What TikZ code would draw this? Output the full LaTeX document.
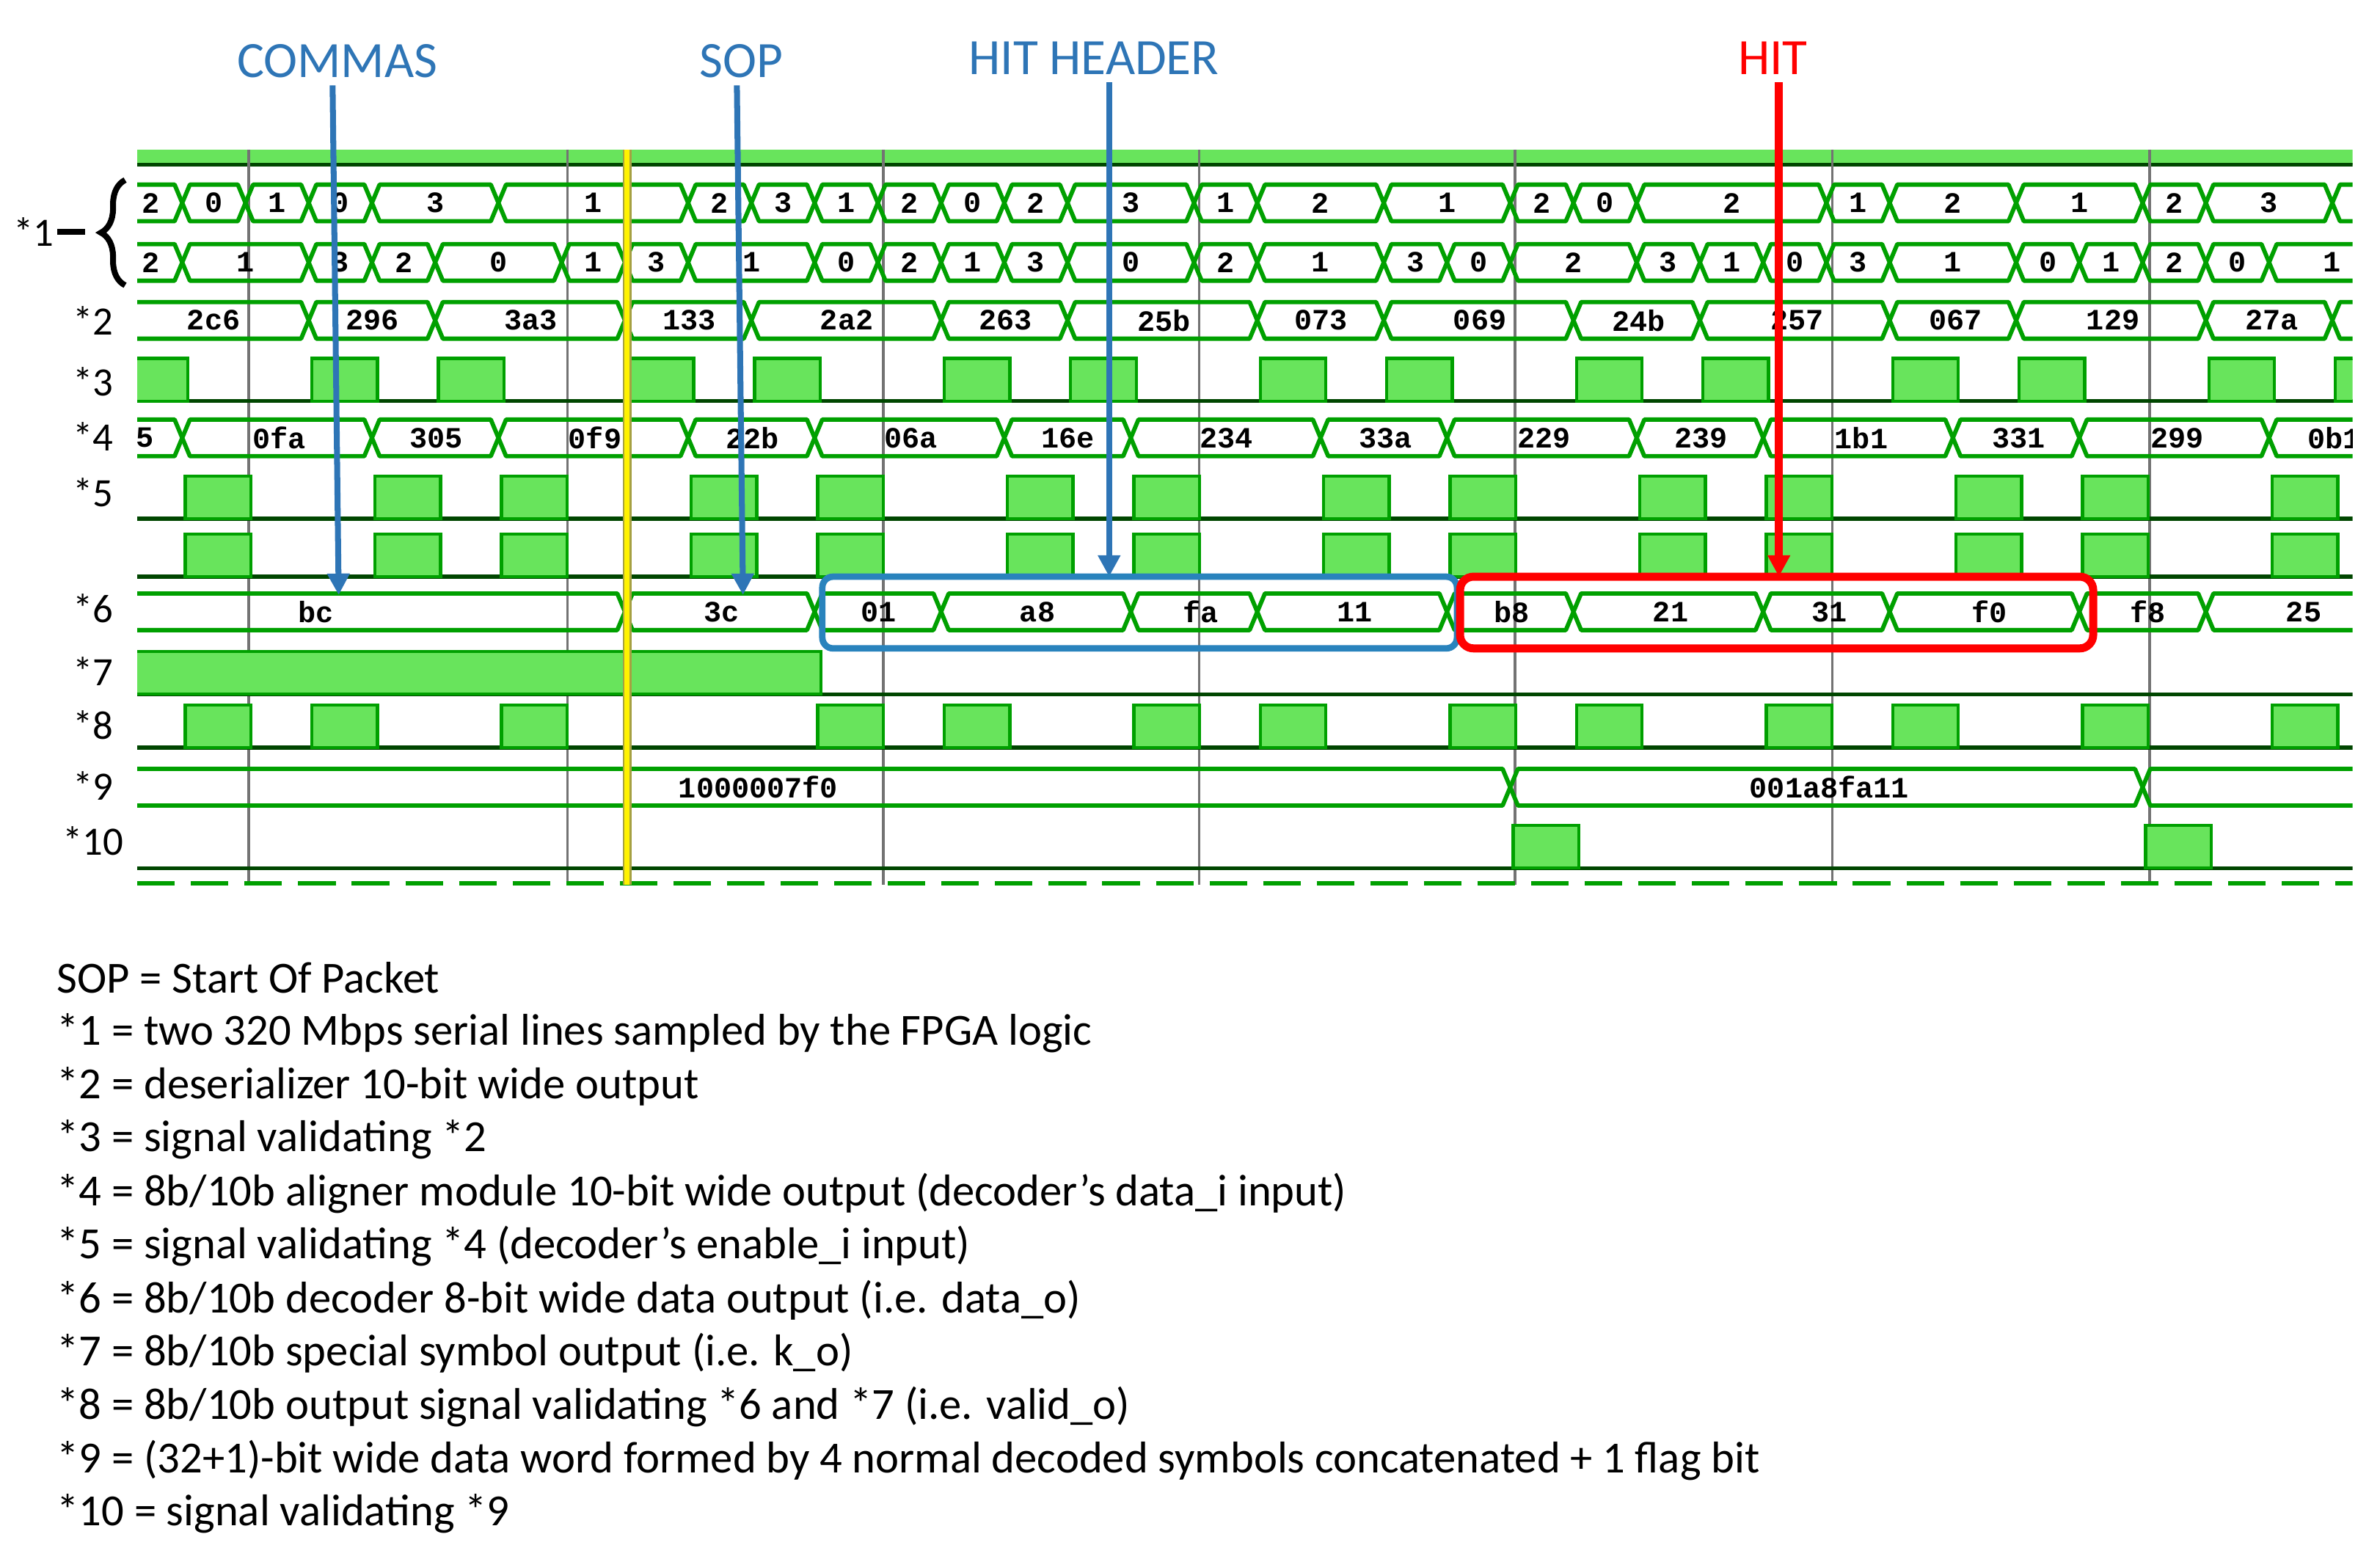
\documentclass[tikz,border=0pt]{standalone}
\usepackage{fontspec}
\setmainfont{Carlito}
\newfontfamily\monof{Liberation Mono}
\usetikzlibrary{decorations.pathreplacing,arrows.meta}
\definecolor{gfill}{RGB}{104,228,92}
\definecolor{gline}{RGB}{0,160,0}
\definecolor{gdark}{RGB}{0,70,0}
\definecolor{annblue}{RGB}{46,117,182}
\tikzset{
  bus/.style={draw=gline,line width=1.6pt,line join=round},
  val/.style={font=\monof\bfseries\fontsize{11}{11}\selectfont,inner sep=0pt},
  pul/.style={fill=gfill,draw=gline,line width=1.2pt},
  base/.style={draw=gdark,line width=1.4pt},
  grid/.style={draw=black!55,line width=0.9pt},
  ann/.style={font=\fontsize{19}{19}\selectfont,inner sep=0pt},
  annarrow/.style={line width=2.2pt,-{Triangle[length=8pt,width=8pt]}},
  rowlab/.style={font=\fontsize{15}{15}\selectfont,inner sep=0pt},
  legend/.style={font=\fontsize{16.6}{19}\selectfont,anchor=west,inner sep=0pt}
}
\newcommand\busA[2]{\foreach \a/\b/\t in {#2}{
  \draw[bus] ({78+41.45*\a},#1) -- ({78+41.45*\a+5},#1-12) -- ({78+41.45*\b-5},#1-12) -- ({78+41.45*\b},#1) -- ({78+41.45*\b-5},#1+12) -- ({78+41.45*\a+5},#1+12) -- cycle;
  \node[val] (va#1x\a) at ({max(99,78+41.45*(\a+\b)/2)},#1) {\t};}}
\newcommand\busB[2]{\foreach \a/\b/\t/\c in {#2}{
  \draw[bus] ({78+41.45*\a},#1) -- ({78+41.45*\a+5},#1-12) -- ({78+41.45*\b-5},#1-12) -- ({78+41.45*\b},#1) -- ({78+41.45*\b-5},#1+12) -- ({78+41.45*\a+5},#1+12) -- cycle;
  \node[val] (vb#1x\a) at (\c,#1) {\t};}}
\newcommand\pulses[2]{\draw[base] (85,#1) -- (1550,#1);
  \foreach \k in {#2}{\draw[pul] ({78+41.45*\k+2},#1) rectangle ({78+41.45*\k+45},#1-28);}}
\begin{document}
\begin{tikzpicture}[x=0.02cm,y=-0.02cm]
\useasboundingbox (0,0) rectangle (1560,1014.6);
\begin{scope}
\clip (90,90) rectangle (1542,590);
\fill[gfill] (90,98) rectangle (1542,108);
\draw[base] (90,108) -- (1542,108);
\foreach \g in {163,372,579,786,993,1201,1409}{\draw[grid] (\g,98) -- (\g,580);}
\busA{133}{-1/1/2,1/2/0,2/3/1,3/4/0,4/6/3,6/9/1,9/10/2,10/11/3,11/12/1,12/13/2,13/14/0,14/15/2,15/17/3,17/18/1,18/20/2,20/22/1,22/23/2,23/24/0,24/27/2,27/28/1,28/30/2,30/32/1,32/33/2,33/35/3,35/37/{}}
\busA{172}{-1/1/2,1/3/1,3/4/3,4/5/2,5/7/0,7/8/1,8/9/3,9/11/1,11/12/0,12/13/2,13/14/1,14/15/3,15/17/0,17/18/2,18/20/1,20/21/3,21/22/0,22/24/2,24/25/3,25/26/1,26/27/0,27/28/3,28/30/1,30/31/0,31/32/1,32/33/2,33/34/0,34/36/1}
\busB{210}{-1/3/2c6/140,3/5/296/244,5/8/3a3/348,8/10/133/452,10/13/2a2/555,13/15/263/659,15/18/25b/763,18/20/073/866,20/23/069/970,23/25/24b/1074,25/28/257/1178,28/30/067/1282,30/33/129/1385,33/35/27a/1489,35/37/{}/1560}
\pulses{263}{0,3,5,8,10,13,15,18,20,23,25,28,30,33,35}
\busB{287}{-1/1/5/95,1/4/0fa/183,4/6/305/286,6/9/0f9/390,9/11/22b/493,11/14/06a/597,14/16/16e/700,16/19/234/804,19/21/33a/908,21/24/229/1012,24/26/239/1115,26/29/1b1/1220,29/31/331/1323,31/34/299/1427,34/37/0b1/1530}
\pulses{340}{1,4,6,9,11,14,16,19,21,24,26,29,31,34}
\pulses{378}{1,4,6,9,11,14,16,19,21,24,26,29,31,34}
\busB{401}{-1/8/bc/207,8/11/3c/473,11/13/01/576,13/16/a8/680,16/18/fa/787,18/21/11/888,21/23/b8/991,23/26/21/1095,26/28/31/1199,28/31/f0/1304,31/33/f8/1408,33/37/25/1510}
\draw[base] (85,455) -- (1550,455);
\draw[pul] (85,455) rectangle (538,427);
\pulses{490}{1,3,6,11,13,16,18,21,23,26,28,31,34}
\busB{516}{-1/22/1000007f0/497,22/32/001a8fa11/1199,32/37/{}/1560}
\pulses{569}{22,32}
\draw[draw=gline,line width=1.4pt,dash pattern=on 14pt off 6pt] (90,579) -- (1542,579);
\draw[draw=black!40!yellow,line width=3.2pt] (411,98) -- (411,580);
\draw[draw=yellow,line width=1.8pt] (411,98) -- (411,580);
\end{scope}
% row labels
\draw[line width=2.2pt,decorate,decoration={brace,amplitude=9pt}] (82,187) -- (82,118);
\node[rowlab] (l1) at (22,152) {*1};
\draw[line width=2pt] (l1.east) ++(2,0) -- (56,152);
\foreach \n/\yy in {2/210,3/250,4/286,5/323,6/399,7/440,8/475,9/515}{\node[rowlab] (l\n) at (61,\yy) {*\n};}
\node[rowlab] (l10) at (61,551) {*10};
% annotations
\node[ann,text=annblue] (commas) at (221,40) {COMMAS};
\node[ann,text=annblue] (sop) at (486,40) {SOP};
\node[ann,text=annblue] (hh) at (717,38) {HIT HEADER};
\node[ann,text=red] (hit) at (1162,38) {HIT};
\coordinate (ca) at (222,390);
\coordinate (sa) at (487,390);
\coordinate (ha) at (727,378);
\coordinate (ta) at (1166,378);
\draw[annarrow,draw=annblue,fill=annblue] (218,56) -- (ca);
\draw[annarrow,draw=annblue,fill=annblue] (483,56) -- (sa);
\draw[annarrow,draw=annblue,fill=annblue] (727,54) -- (ha);
\draw[annarrow,draw=red,fill=red,line width=3pt] (1166,54) -- (ta);
\draw[draw=annblue!90!cyan,line width=2.4pt,rounded corners=4pt] (539,378) rectangle (955,425);
\draw[draw=red,line width=3pt,rounded corners=5pt] (957,378) rectangle (1372,425);
% legend
\node[legend] (g0) at (37,641) {SOP = Start Of Packet};
\node[legend] (g1) at (37,677) {*1 = two 320 Mbps serial lines sampled by the FPGA logic};
\node[legend] (g2) at (37,712) {*2 = deserializer 10-bit wide output};
\node[legend] (g3) at (37,747) {*3 = signal validating *2};
\node[legend] (g4) at (37,782) {*4 = 8b/10b aligner module 10-bit wide output (decoder's data\_i input)};
\node[legend] (g5) at (37,817) {*5 = signal validating *4 (decoder's enable\_i input)};
\node[legend] (g6) at (37,852) {*6 = 8b/10b decoder 8-bit wide data output (i.e. data\_o)};
\node[legend] (g7) at (37,887) {*7 = 8b/10b special symbol output (i.e. k\_o)};
\node[legend] (g8) at (37,922) {*8 = 8b/10b output signal validating *6 and *7 (i.e. valid\_o)};
\node[legend] (g9) at (37,957) {*9 = (32+1)-bit wide data word formed by 4 normal decoded symbols concatenated + 1 flag bit};
\node[legend] (g10) at (37,992) {*10 = signal validating *9};
\end{tikzpicture}
\end{document}
